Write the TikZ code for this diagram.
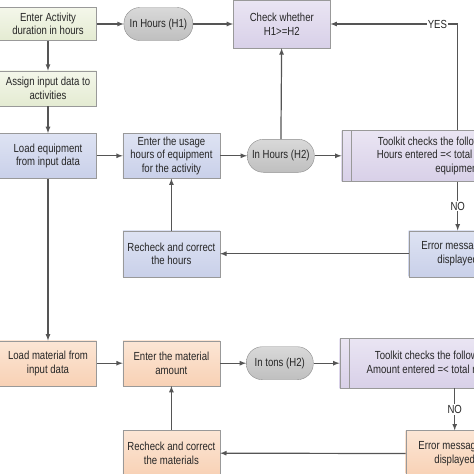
\documentclass[tikz,border=0pt]{standalone}
\usepackage{fontspec}
\setmainfont{Liberation Sans}[FakeStretch=0.82]
\usetikzlibrary{arrows,shapes,positioning}

\definecolor{lineg}{HTML}{555555}
\definecolor{greenT}{HTML}{F4F7EA}
\definecolor{greenB}{HTML}{E4EBD2}
\definecolor{blueT}{HTML}{DEE3F3}
\definecolor{blueB}{HTML}{C9D0E9}
\definecolor{purpT}{HTML}{EAE5F3}
\definecolor{purpB}{HTML}{D8D0E8}
\definecolor{oranT}{HTML}{FCE6D5}
\definecolor{oranB}{HTML}{F8D1B5}

\begin{document}
\begin{tikzpicture}[font=\fontsize{11.7}{13.6}\selectfont, text=black!85]
    \tikzstyle{box}=[rectangle, draw=black!40, align=center, inner sep=2pt, minimum width=97pt, minimum height=45pt]
    \tikzstyle{gbox}=[box, top color=greenT, bottom color=greenB]
    \tikzstyle{bbox}=[box, top color=blueT, bottom color=blueB]
    \tikzstyle{pbox}=[box, top color=purpT, bottom color=purpB]
    \tikzstyle{obox}=[box, top color=oranT, bottom color=oranB]
    \tikzstyle{tbox}=[pbox, path picture={\draw[black!40] ([xshift=9pt]path picture bounding box.north west) -- ([xshift=9pt]path picture bounding box.south west);}]
    \tikzstyle{pill}=[rectangle, rounded corners=16pt, draw=black!45, top color=black!15, bottom color=black!25, minimum width=67pt, minimum height=33pt]
    \tikzstyle{connect}=[-latex, line width=1.2pt, draw=lineg]
    \tikzstyle{tag}=[fill=white, inner sep=1pt]
    \useasboundingbox (0,0) rectangle (474pt,-474pt);
    % top row
    \node[gbox, minimum height=33pt] (act) at (48pt,-24pt) {Enter Activity\\duration in hours};
    \node[pill, minimum width=69pt] (h1) [right=27pt of act] {In Hours (H1)};
    \node[pbox, minimum height=48pt] (check) [right=40pt of h1] {Check whether\\H1>=H2};
    \node[gbox, minimum height=35pt] (assign) [below=30pt of act] {Assign input data to\\activities};
    % equipment
    \node[bbox] (loadeq) [below=27pt of assign] {Load equipment\\from input data};
    \node[bbox] (usage) [right=26pt of loadeq] {Enter the usage\\hours of equipment\\for the activity};
    \node[pill] (h2) [right=27pt of usage] {In Hours (H2)};
    \node[tbox, minimum width=232pt, minimum height=51pt] (tool1) [right=27pt of h2] {Toolkit checks the following condition:\\Hours entered =< total usage hours of\\equipment};
    \node[bbox, minimum width=98pt, minimum height=46pt] (err1) [below=49pt of tool1] {Error message is\\displayed};
    \node[bbox, minimum height=46pt] (rech1) [below=52pt of usage] {Recheck and correct\\the hours};
    % material
    \node[obox] (loadmat) [below=162pt of loadeq] {Load material from\\input data};
    \node[obox] (amount) [right=26pt of loadmat] {Enter the material\\amount};
    \node[pill] (tons) [right=26pt of amount] {In tons (H2)};
    \node[tbox, minimum width=230pt, minimum height=50pt] (tool2) [right=26pt of tons] {Toolkit checks the following condition:\\Amount entered =< total material quantity};
    \node[obox, minimum width=98pt, minimum height=46pt] (err2) [below=42pt of tool2] {Error message is\\displayed};
    \node[obox, minimum height=46pt] (rech2) [below=44pt of amount] {Recheck and correct\\the materials};
    \path (act) edge [connect] (h1)
    (h1) edge [connect] (check)
    (act) edge [connect] (assign)
    (assign) edge [connect] (loadeq)
    (loadeq) edge [connect] (usage)
    (usage) edge [connect] (h2)
    (h2) edge [connect] (check)
    (h2) edge [connect] (tool1)
    (tool1) edge [connect] node[tag] {NO} (err1)
    (err1) edge [connect] (rech1)
    (rech1) edge [connect] (usage)
    (loadeq) edge [connect] (loadmat)
    (loadmat) edge [connect] (amount)
    (amount) edge [connect] (tons)
    (tons) edge [connect] (tool2)
    (tool2) edge [connect] node[tag] {NO} (err2)
    (err2) edge [connect] (rech2)
    (rech2) edge [connect] (amount);
    \draw[connect] (tool1.north) |- node[tag, pos=0.58] {YES} (check.east);
\end{tikzpicture}
\end{document}
